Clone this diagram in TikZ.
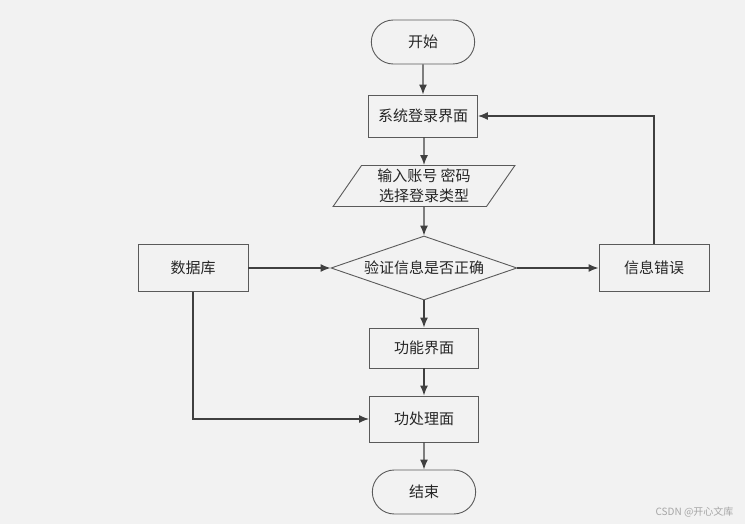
\documentclass[tikz,border=0pt]{standalone}
\usepackage{fontspec}
\setmainfont{Noto Sans CJK SC}
\usepackage{tikz}
\usetikzlibrary{shapes,arrows.meta,positioning,calc}

\definecolor{bgcol}{HTML}{F2F2F2}
\definecolor{linecol}{HTML}{404040}
\definecolor{boxline}{HTML}{5A5A5A}

\begin{document}
\begin{tikzpicture}[
    x=1pt, y=-1pt,
    font=\fontsize{15}{20}\selectfont,
    >={Latex[length=10pt,width=8pt]},
    every node/.style={text=black!85},
    stepbox/.style={rectangle, draw=boxline, fill=bgcol, line width=0.9pt, minimum width=109, minimum height=42, align=center},
    term/.style={rounded rectangle, draw=boxline, fill=bgcol, line width=0.9pt, minimum width=110, minimum height=44},
    iobox/.style={trapezium, trapezium left angle=58, trapezium right angle=122, draw=boxline, fill=bgcol, line width=0.9pt, minimum width=182, minimum height=41, align=center, inner sep=0pt, trapezium stretches=true},
    decide/.style={diamond, aspect=2.9, draw=boxline, fill=bgcol, line width=0.9pt, minimum width=186, minimum height=64, inner sep=0pt},
    link/.style={draw=linecol, line width=1.4pt}
]
    % Background
    \fill[bgcol] (0,0) rectangle (745,524);

    % Main column
    \node[term] (start) at (423,42) {开始};
    \node[stepbox] (login) at (423,116) {系统登录界面};
    \node[iobox] (input) at (424,186) {输入账号 密码\\选择登录类型};
    \node[decide] (check) at (424,268) {验证信息是否正确};
    \node[stepbox, minimum height=40] (func) at (424,348) {功能界面};
    \node[stepbox, minimum height=46] (proc) at (424,419) {功处理面};
    \node[term] (stop) at (424,492) {结束};

    % Side boxes
    \node[stepbox, minimum width=110, minimum height=47] (db) at (193,268) {数据库};
    \node[stepbox, minimum width=110, minimum height=47] (err) at (654,268) {信息错误};

    % Edges
    \draw[link, ->] (start) -- (login);
    \draw[link, ->] (login.south -| input) -- (input);
    \draw[link, ->] (input) -- (check);
    \draw[link, ->] (check) -- (func);
    \draw[link, ->] (func) -- (proc);
    \draw[link, ->] (proc) -- (stop);
    \draw[link, ->] (db) -- (check);
    \draw[link, ->] (check) -- (err);
    \draw[link, ->] (err.north) |- (login.east);
    \draw[link, ->] (db.south) |- (proc.west);

    % Watermark
    \node[text=black!35, font=\fontsize{10}{12}\selectfont, anchor=east] (mark) at (737,512) {CSDN @开心文库};
\end{tikzpicture}
\end{document}
